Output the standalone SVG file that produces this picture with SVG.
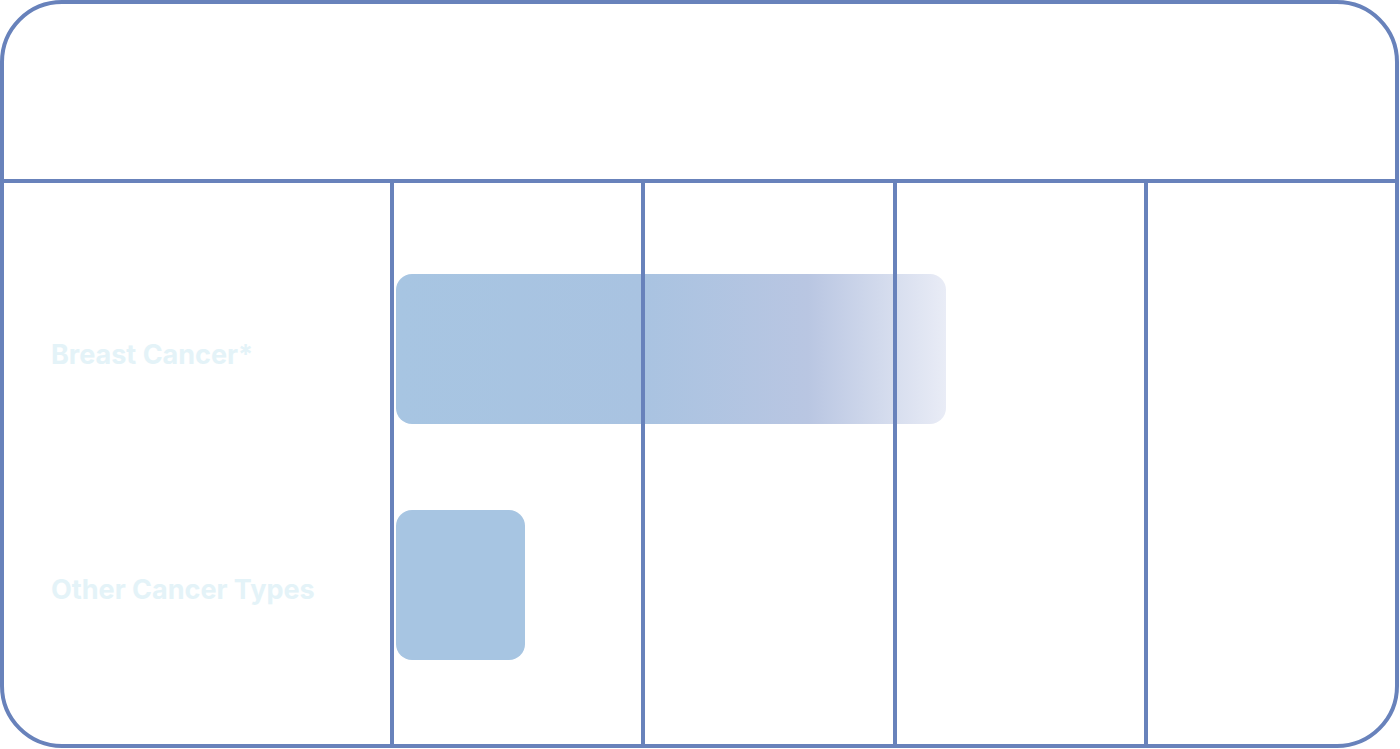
<svg xmlns="http://www.w3.org/2000/svg" width="1400" height="749" viewBox="0 0 1400 749">
<style>
.ln{stroke:#6882bb;stroke-width:4;fill:none}
.lbl{font-family:Inter,"Liberation Sans",sans-serif;font-weight:700;font-size:27px;fill:#e4f3f8}
</style>
<defs>
<linearGradient id="g" x1="396" y1="0" x2="946" y2="0" gradientUnits="userSpaceOnUse">
<stop offset="0" stop-color="#a7c5e2"/>
<stop offset="0.45" stop-color="#a9c3e1"/>
<stop offset="0.75" stop-color="#b9c6e2"/>
<stop offset="1" stop-color="#e9ecf6"/>
</linearGradient>
</defs>
<rect width="1400" height="749" fill="#fff"/>
<g id="bar-breast"><rect x="396" y="274" width="550" height="150" rx="16" fill="url(#g)"/></g>
<g id="bar-other"><rect x="396" y="510" width="129" height="150" rx="16" fill="#a7c5e2"/></g>
<g id="grid">
<rect class="ln" x="2" y="2" width="1395" height="744" rx="60"/>
<line class="ln" x1="2" y1="181" x2="1397" y2="181"/>
<line class="ln" x1="392" y1="181" x2="392" y2="746"/>
<line class="ln" x1="643" y1="181" x2="643" y2="746"/>
<line class="ln" x1="895" y1="181" x2="895" y2="746"/>
<line class="ln" x1="1146" y1="181" x2="1146" y2="746"/>
</g>
<g id="label-breast"><text class="lbl" x="51" y="364">Breast Cancer*</text></g>
<g id="label-other"><text class="lbl" x="51" y="599">Other Cancer Types</text></g>
</svg>
